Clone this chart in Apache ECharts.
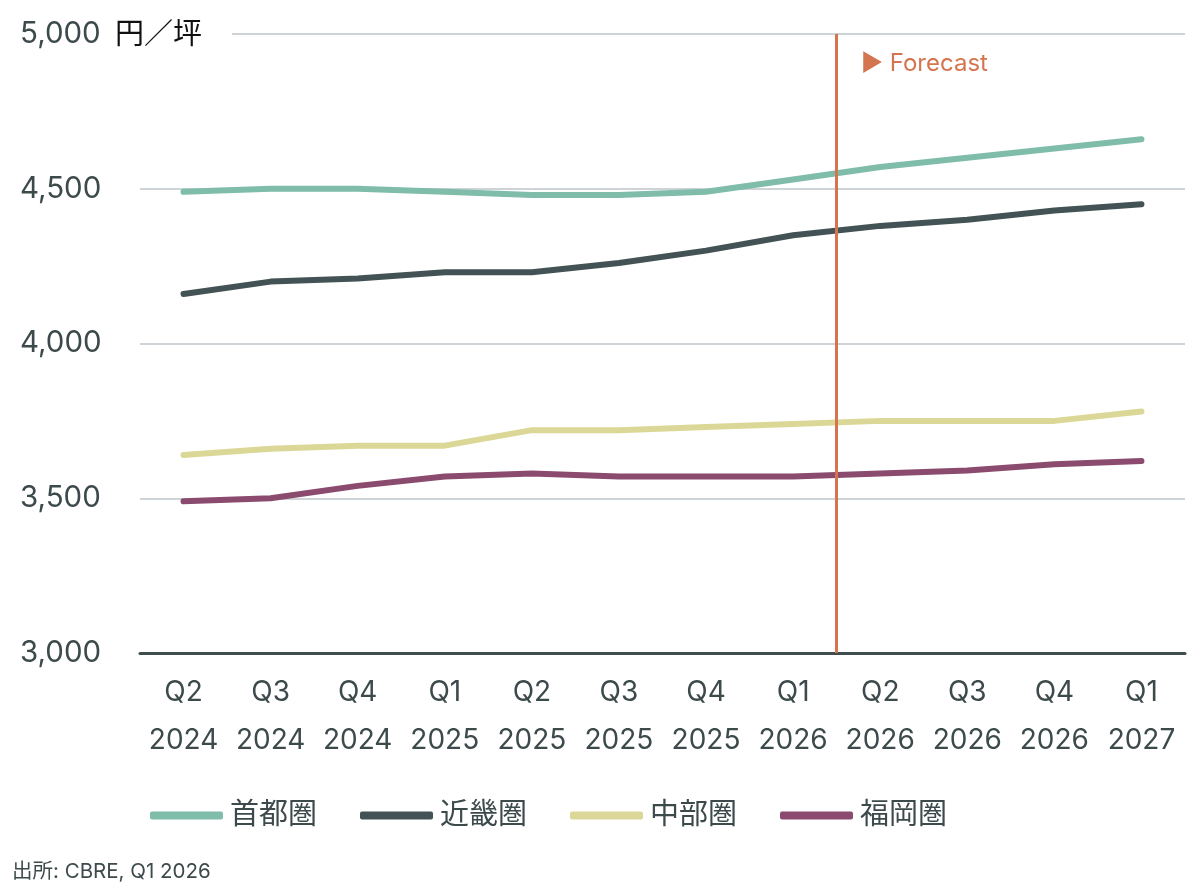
<!DOCTYPE html>
<html>
<head>
<meta charset="utf-8">
<script src="https://cdn.jsdelivr.net/npm/echarts@6/dist/echarts.min.js"></script>
<style>
  html, body { margin: 0; padding: 0; background: #fff; }
  #main { width: 1200px; height: 895px; }
</style>
</head>
<body>
<div id="main"></div>
<script>
// 四半期ラベル
const quarters = ['Q2\n2024', 'Q3\n2024', 'Q4\n2024', 'Q1\n2025', 'Q2\n2025', 'Q3\n2025',
  'Q4\n2025', 'Q1\n2026', 'Q2\n2026', 'Q3\n2026', 'Q4\n2026', 'Q1\n2027']

// 賃料 (円／坪)
const shutoken = [4490, 4500, 4500, 4490, 4480, 4480, 4490, 4530, 4570, 4600, 4630, 4660]
const kinki    = [4160, 4200, 4210, 4230, 4230, 4260, 4300, 4350, 4380, 4400, 4430, 4450]
const chubu    = [3640, 3660, 3670, 3670, 3720, 3720, 3730, 3740, 3750, 3750, 3750, 3780]
const fukuoka  = [3490, 3500, 3540, 3570, 3580, 3570, 3570, 3570, 3580, 3590, 3610, 3620]

const yTicks = [3000, 3500, 4000, 4500, 5000]
// 予測開始位置 (Q1 2026 と Q2 2026 の間)
const forecastAt = 7.5

const textColor = '#3d4a4b'
const font = 'Inter, "Noto Sans CJK JP", sans-serif'

const chart = echarts.init(document.getElementById('main'))

function line (name, data, color) {
  return {
    name: name,
    type: 'line',
    data: data,
    symbol: 'none',
    z: 3,
    lineStyle: { color: color, width: 6, cap: 'round', join: 'round' },
    itemStyle: { color: color }
  }
}

chart.setOption({
  animation: false,
  textStyle: { fontFamily: font },
  grid: { left: 140, right: 15, top: 34, bottom: 242 },
  legend: {
    left: 145,
    top: 796,
    itemWidth: 73,
    itemHeight: 8,
    itemGap: 43,
    icon: 'roundRect',
    textStyle: { color: textColor, fontSize: 29, fontFamily: font, padding: [0, 0, 0, 2] },
    data: ['首都圏', '近畿圏', '中部圏', '福岡圏']
  },
  xAxis: [{
    type: 'category',
    data: quarters,
    boundaryGap: true,
    axisLine: { lineStyle: { color: '#3f4d4f', width: 3 } },
    axisTick: { show: false },
    axisLabel: { color: textColor, fontSize: 28, lineHeight: 48, margin: 16, interval: 0 }
  }, {
    type: 'value',
    min: -0.5,
    max: quarters.length - 0.5,
    show: false
  }],
  yAxis: {
    type: 'value',
    min: yTicks[0],
    max: yTicks[yTicks.length - 1],
    interval: 500,
    axisLine: { show: false },
    axisTick: { show: false },
    splitLine: { lineStyle: { color: '#cdd3d6', width: 2 } },
    axisLabel: {
      color: textColor,
      fontSize: 29.5,
      align: 'left',
      margin: 120,
      formatter: v => v.toLocaleString('en-US')
    }
  },
  series: [
    line('首都圏', shutoken, '#7fbcaa'),
    line('近畿圏', kinki, '#435254'),
    line('中部圏', chubu, '#dbd897'),
    line('福岡圏', fukuoka, '#8a4b6e'),
    {
      type: 'line',
      xAxisIndex: 1,
      data: [],
      silent: true,
      markLine: {
        symbol: 'none',
        silent: true,
        z: 5,
        label: { show: false },
        lineStyle: { color: '#d5754f', width: 3, type: 'solid' },
        data: [{ xAxis: forecastAt }]
      }
    }
  ],
  graphic: [
    {
      type: 'text',
      left: 103,
      top: 16,
      z: 10,
      style: {
        text: '円／坪',
        fill: '#111',
        font: '29px "Noto Sans CJK JP", sans-serif',
        backgroundColor: '#fff',
        padding: [2, 30, 2, 12]
      }
    },
    {
      type: 'text',
      left: 861,
      top: 52,
      style: {
        text: '▶ Forecast',
        fill: '#d5754f',
        font: '24px ' + font
      }
    },
    {
      type: 'text',
      left: 12,
      top: 862,
      style: {
        text: '出所: CBRE, Q1 2026',
        fill: textColor,
        font: '20.5px ' + font
      }
    }
  ]
})
</script>
</body>
</html>
